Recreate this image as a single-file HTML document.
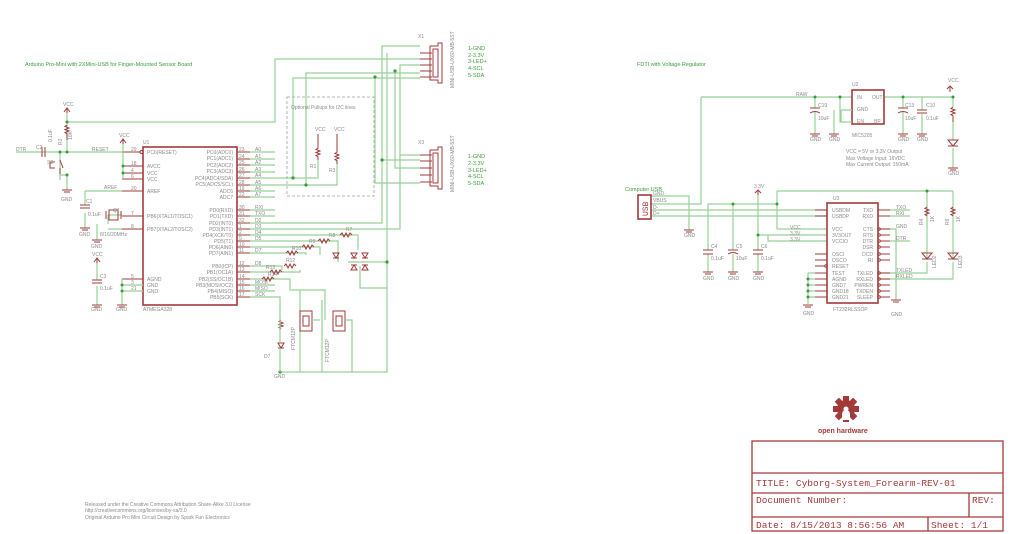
<!DOCTYPE html>
<html><head><meta charset="utf-8"><style>
html,body{margin:0;padding:0;background:#fff;}
svg{display:block;}
.w{stroke:#96d196;stroke-width:1.2;fill:none}
.p{stroke:#a33a3a;stroke-width:1;fill:none}
.pt{stroke:#a33a3a;stroke-width:1.6;fill:none}
.g{fill:#8a8a8a;font-family:"Liberation Sans",sans-serif;font-size:5px}
.gn{fill:#3aa03a;font-family:"Liberation Sans",sans-serif;font-size:5.5px}
.r{fill:#a33a3a;font-family:"Liberation Mono",monospace;font-size:9.5px}
.d{fill:#3a9a3a}
</style></head><body>
<svg width="1024" height="534" viewBox="0 0 1024 534" xmlns="http://www.w3.org/2000/svg">
<text class="gn" x="25" y="66">Arduino Pro-Mini with 2XMini-USB for Finger-Mounted Sensor Board</text>
<text class="gn" x="637" y="66">FDTI with Voltage Regulator</text>

<!-- U1 chip -->
<rect class="pt" x="143" y="147" width="94" height="158"/>
<text class="g" x="143" y="144">U1</text>
<text class="g" x="143" y="311">ATMEGA328</text>
<g class="g">
<text x="147" y="154">PC6(RESET)</text><text x="147" y="168">AVCC</text><text x="147" y="175">VCC</text><text x="147" y="181">VCC</text><text x="147" y="193">AREF</text>
<text x="147" y="218">PB6(XTAL1/TOSC1)</text><text x="147" y="231">PB7(XTAL2/TOSC2)</text>
<text x="147" y="281">AGND</text><text x="147" y="287">GND</text><text x="147" y="293">GND</text>
</g>
<g class="g" text-anchor="end">
<text x="233" y="154">PC0(ADC0)</text><text x="233" y="160">PC1(ADC1)</text><text x="233" y="167">PC2(ADC2)</text><text x="233" y="173">PC3(ADC3)</text><text x="233" y="180">PC4(ADC4/SDA)</text><text x="233" y="186">PC5(ADC5/SCL)</text><text x="233" y="193">ADC6</text><text x="233" y="199">ADC7</text>
<text x="233" y="212">PD0(RXD)</text><text x="233" y="218">PD1(TXD)</text><text x="233" y="225">PD2(INT0)</text><text x="233" y="231">PD3(INT1)</text><text x="233" y="237">PD4(XCK/T0)</text><text x="233" y="243">PD5(T1)</text><text x="233" y="249">PD6(AIN0)</text><text x="233" y="255">PD7(AIN1)</text>
<text x="233" y="268">PB0(ICP)</text><text x="233" y="274">PB1(OC1A)</text><text x="233" y="281">PB2(SS/OC1B)</text><text x="233" y="287">PB3(MOSI/OC2)</text><text x="233" y="293">PB4(MISO)</text><text x="233" y="299">PB5(SCK)</text>
</g>
<g class="p">
<path d="M237 152H250M237 159H250M237 165H250M237 172H250M237 178H250M237 185H250M237 191H250M237 197H250M237 210H250M237 216H250M237 223H250M237 229H250M237 235H250M237 241H250M237 247H250M237 253H250M237 266H250M237 272H250M237 279H250M237 285H250M237 291H250M237 297H250"/>
<path d="M122 166H143M122 173H143M122 179H143M122 191H143M122 216H143M122 229H143M122 279H143M122 285H143M122 291H143M122 152H140"/>
<circle cx="141.5" cy="152" r="1.5"/>
</g>
<g class="g">
<text x="239" y="151">23</text><text x="239" y="158">24</text><text x="239" y="164">25</text><text x="239" y="171">26</text><text x="239" y="177">27</text><text x="239" y="184">28</text><text x="239" y="190">19</text><text x="239" y="196">22</text>
<text x="239" y="209">30</text><text x="239" y="215">31</text><text x="239" y="222">32</text><text x="239" y="228">1</text><text x="239" y="234">2</text><text x="239" y="240">9</text><text x="239" y="246">10</text><text x="239" y="252">11</text>
<text x="239" y="265">12</text><text x="239" y="271">13</text><text x="239" y="278">14</text><text x="239" y="284">15</text><text x="239" y="290">16</text><text x="239" y="296">17</text>
<text x="131" y="151">29</text><text x="131" y="165">18</text><text x="131" y="172">4</text><text x="131" y="178">6</text><text x="131" y="190">20</text><text x="131" y="215">7</text><text x="131" y="228">8</text><text x="131" y="278">5</text><text x="131" y="284">3</text><text x="131" y="290">21</text>
<text x="255" y="151">A0</text><text x="255" y="158">A1</text><text x="255" y="164">A2</text><text x="255" y="171">A3</text><text x="255" y="177">A4</text><text x="255" y="184">A5</text><text x="255" y="190">A6</text><text x="255" y="196">A7</text>
<text x="255" y="209">RXI</text><text x="255" y="215">TXO</text><text x="255" y="222">D2</text><text x="255" y="228">D3</text><text x="255" y="234">D4</text><text x="255" y="240">D5</text><text x="255" y="252">D7</text><text x="255" y="265">D8</text>
<text x="255" y="284">MOSI</text><text x="255" y="290">MISO</text><text x="255" y="296">SCK</text>
</g>
<!-- right pin wires -->
<path class="w" d="M250 152H275M250 159H275M250 165H275M250 172H275M250 191H275M250 197H275M250 210H275M250 216H275M250 285H275M250 291H275"/>
<path class="w" d="M250 178H318V160M250 185H337V160M293 178V78H420M306 185V73H420"/>
<path class="w" d="M250 223H382V46H420M250 229H400V65H420M250 235H358V250M250 241H338V262M250 247H320V255M250 253H306V255M250 266H282V270M250 272H300V270M250 279H290V290H325V320M250 297H280V305"/>
<path class="w" d="M67 122H275V59H420M387 53V372H280M375 77V183H420M395 71V168H420M382 160H420M400 155H420"/>
<path class="w" d="M348 262H387M300 290V372M322 300V372M360 266V288H387"/>
<g class="d"><circle cx="293" cy="178" r="1.6"/><circle cx="306" cy="185" r="1.6"/><circle cx="375" cy="77" r="1.6"/><circle cx="395" cy="71" r="1.6"/><circle cx="387" cy="262" r="1.6"/><circle cx="382" cy="160" r="1.6"/><circle cx="280" cy="372" r="1.6"/></g>

<!-- Pullups -->
<rect x="287" y="97" width="87" height="99" fill="none" stroke="#a0a0a0" stroke-dasharray="3,2" stroke-width="0.8"/>
<text class="g" x="291" y="109">Optional Pullups for I2C lines</text>
<text class="g" x="315" y="131">VCC</text><text class="g" x="334" y="131">VCC</text>
<path class="p" d="M318 134V148l-2 1.5 4 1.5-4 1.5 4 1.5-4 1.5 2 1.5V160M337 134V152l-2 1.5 4 1.5-4 1.5 4 1.5-4 1.5 2 1.5V164"/>
<text class="g" x="310" y="168">R1</text><text class="g" x="329" y="172">R3</text>

<!-- Connectors -->
<g class="p" stroke-width="1.2">
<path d="M420 53H432M420 59H432M420 65H432M420 71H432M420 77H432"/>
<path d="M430 46h8v-3h4v40h-4v-3h-8z"/><path d="M433 49h5v28h-5z"/>
<path d="M420 155H432M420 161H432M420 168H432M420 175H432M420 182H432"/>
<path d="M430 150h8v-3h4v42h-4v-3h-8z"/><path d="M433 153h5v30h-5z"/>
</g>
<text class="g" x="418" y="38">X1</text><text class="g" x="418" y="144">X3</text>
<text class="g" transform="translate(454,88) rotate(-90)">MINI-USB-UX60-MB-5ST</text>
<text class="g" transform="translate(454,192) rotate(-90)">MINI-USB-UX60-MB-5ST</text>
<g class="gn"><text x="468" y="50">1-GND</text><text x="468" y="57">2-3.3V</text><text x="468" y="63">3-LED+</text><text x="468" y="70">4-SCL</text><text x="468" y="77">5-SDA</text>
<text x="468" y="158">1-GND</text><text x="468" y="165">2-3.3V</text><text x="468" y="172">3-LED+</text><text x="468" y="178">4-SCL</text><text x="468" y="185">5-SDA</text></g>

<!-- reset area -->
<text class="g" x="63" y="106">VCC</text><path class="p" d="M67 108v5M64 112l3-4 3 4"/>
<path class="w" d="M67 113V122M16 152H122M60 152V180M67 122V152"/>
<path class="p" d="M67 125l-2 1.5 4 1.5-4 1.5 4 1.5-4 1.5 2 1.5V140"/>
<text class="g" x="62" y="145" transform="rotate(-90 62 145)">R2</text><text class="g" x="72" y="140" transform="rotate(-90 72 140)">10K</text>
<text class="g" x="16" y="151">DTR</text><text class="g" x="92" y="151">RESET</text>
<path class="p" d="M42 147v10M45 147v10"/><text class="g" x="36" y="149">C2</text><text class="g" x="52" y="142" transform="rotate(-90 52 142)">0.1uF</text>
<path class="p" d="M55 162h-5v6h5M60 160l3 8M60 168v6"/><text class="g" x="47" y="164">S2</text>
<path class="w" d="M60 175H67V190"/><path class="p" d="M62 190h10M64 192h6"/><text class="g" x="61" y="201">GND</text>
<circle class="d" cx="60" cy="152" r="1.5"/><circle class="d" cx="67" cy="152" r="1.5"/><circle class="d" cx="67" cy="122" r="1.5"/><circle class="d" cx="67" cy="175" r="1.5"/>
<text class="g" x="119" y="137">VCC</text><path class="p" d="M123 139v5M120 143l3-4 3 4"/>
<path class="w" d="M123 144V179"/><circle class="d" cx="123" cy="166" r="1.5"/><circle class="d" cx="123" cy="173" r="1.5"/>
<path class="w" d="M85 191H122M85 191V205M85 213V228"/><text class="g" x="104" y="189">AREF</text>
<path class="p" d="M80 205h10M80 208h10M80 228h10M82 230h6"/><text class="g" x="86" y="203">C1</text><text class="g" x="88" y="216">0.1uF</text><text class="g" x="79" y="236">GND</text>
<path class="w" d="M108 215H122M108 215V224M108 229H122M97 224V240"/><path class="p" d="M112 211v8M127 211v8M115 210h9v10h-9z" transform="translate(-6,0)"/>
<text class="g" x="113" y="212">Q1</text><text class="g" x="100" y="236">8/16/20MHz</text><path class="p" d="M92 240h10M94 242h6"/><text class="g" x="91" y="248">GND</text>
<text class="g" x="92" y="256">VCC</text><path class="p" d="M97 258v5M94 262l3-4 3 4"/>
<path class="w" d="M97 263V280M97 286V305"/><path class="p" d="M92 280h10M92 283h10M92 305h10M94 307h6"/><text class="g" x="100" y="278">C3</text><text class="g" x="100" y="290">0.1uF</text><text class="g" x="91" y="311">GND</text>
<path class="w" d="M122 279V305M122 285H143M122 291H143"/><circle class="d" cx="122" cy="285" r="1.5"/><circle class="d" cx="122" cy="291" r="1.5"/><path class="p" d="M117 305h10M119 307h6"/><text class="g" x="116" y="311">GND</text>

<!-- LEDs & resistors -->
<g class="p">
<path d="M340 235l2-2 2 4 2-4 2 4 2-4 2 2M318 241l2-2 2 4 2-4 2 4 2-4 2 2M302 247l2-2 2 4 2-4 2 4 2-4 2 2M286 253l2-2 2 4 2-4 2 4 2-4 2 2M284 266l2-2 2 4 2-4 2 4 2-4 2 2M270 272l2-2 2 4 2-4 2 4 2-4 2 2M262 279l2-2 2 4 2-4 2 4 2-4 2 2"/>
<path d="M333 253h6l-3 5zM333 258h6M351 253h6l-3 5zM351 258h6M362 253h6l-3 5zM362 258h6M351 270h6l-3-5zM351 265h6M362 270h6l-3-5zM362 265h6M278 343h6l-3 5zM278 348h6"/>
<path d="M281 320l-2 1.5 4 1.5-4 1.5 4 1.5-4 1.5 2 1.5"/>
<rect x="300" y="311" width="12" height="20"/><rect x="303" y="316" width="6" height="10"/>
<rect x="333" y="311" width="12" height="20"/><rect x="336" y="316" width="6" height="10"/>
</g>
<g class="g"><text x="346" y="231">R7</text><text x="329" y="237">R8</text><text x="309" y="243">R9</text><text x="292" y="250">R10</text><text x="286" y="262">R12</text><text x="266" y="269">R13</text><text x="268" y="276">R14</text>
<text x="264" y="358">D7</text><text transform="translate(295,350) rotate(-90)">FTCM12P</text><text transform="translate(329,362) rotate(-90)">FTCM12P</text><text x="274" y="378">GND</text></g>
<path class="w" d="M280 305V343M280 348V372M312 320H320M345 320H352V372"/>

<!-- right section -->
<path class="w" d="M701 97H852M701 97V204H651M884 97H953M651 196H689V230M651 210H827M651 216H827"/>
<text class="g" x="796" y="96">RAW</text>
<rect class="pt" x="852" y="90" width="32" height="34"/>
<g class="g"><text x="852" y="86">U2</text><text x="852" y="137">MIC5205</text><text x="857" y="99">IN</text><text x="872" y="99">OUT</text><text x="857" y="111">GND</text><text x="857" y="123">EN</text><text x="874" y="123">BP</text></g>
<path class="w" d="M840 97V122H852M841 122V110H852M834 110V134"/>
<path class="w" d="M815 97V108M815 112V134M903 97V108M903 112V134M922 97V110M922 114V134M953 97V107M953 122V140M953 148V168"/>
<g class="p"><path d="M810 108h10M810 113q5-3 10 0M898 108h10M898 113q5-3 10 0M917 110h10M917 113h10M810 134h10M812 136h6M829 134h10M831 136h6M898 134h10M900 136h6M917 134h10M919 136h6M948 168h10M950 170h6M684 230h10M686 232h6M950 92v-5M947 89l3-3 3 3M948 140h10l-5 6zM948 146h10"/>
<path d="M953 107l-2 1.5 4 1.5-4 1.5 4 1.5-4 1.5 2 1.5V122"/></g>
<g class="d"><circle cx="840" cy="97" r="1.5"/><circle cx="903" cy="97" r="1.5"/><circle cx="953" cy="97" r="1.5"/><circle cx="815" cy="97" r="1.5"/></g>
<g class="g"><text x="818" y="107">C19</text><text x="818" y="120">10uF</text><text x="905" y="107">C13</text><text x="905" y="120">10uF</text><text x="926" y="107">C10</text><text x="926" y="120">0.1uF</text>
<text x="810" y="141">GND</text><text x="829" y="141">GND</text><text x="898" y="141">GND</text><text x="917" y="141">GND</text><text x="948" y="82">VCC</text><text x="948" y="175">GND</text>
<text x="846" y="153">VCC = 5V or 3.3V Output</text><text x="846" y="160">Max Voltage Input: 16VDC</text><text x="846" y="166">Max Current Output: 150mA</text>
<text x="684" y="237">GND</text></g>
<text class="gn" x="625" y="191">Computer USB</text>
<rect class="pt" x="638" y="195" width="13" height="24"/>
<text class="r" style="font-size:8px;fill:#a33a3a" transform="translate(648,216) rotate(-90)">USB</text>
<g class="g"><text x="653" y="195">GND</text><text x="653" y="202">VBUS</text><text x="653" y="209">D-</text><text x="653" y="215">D+</text></g>
<text class="g" x="754" y="188">3.3V</text><path class="p" d="M758 195v-4M755 193l3-3 3 3"/>
<path class="w" d="M758 195V250M758 254V272M708 204H777M708 204V250M708 254V272M733 204V250M733 254V272M777 191H953M777 191V229H827M758 235H827M768 235V241H827M927 191V258M953 191V258M927 262V273H877M953 262V279H877M877 229H896V300"/>
<g class="d"><circle cx="733" cy="204" r="1.5"/><circle cx="777" cy="204" r="1.5"/><circle cx="758" cy="235" r="1.5"/><circle cx="927" cy="191" r="1.5"/></g>
<g class="p"><path d="M703 250h10M703 254h10M728 250h10M728 254q5-3 10 0M753 250h10M753 254h10M703 272h10M705 274h6M728 272h10M730 274h6M753 272h10M755 274h6M891 300h10M893 302h6M803 305h10M805 307h6"/>
<path d="M927 207l-2 1.5 4 1.5-4 1.5 4 1.5-4 1.5 2 1.5M953 207l-2 1.5 4 1.5-4 1.5 4 1.5-4 1.5 2 1.5M922 253h10l-5 6zM922 259h10M948 253h10l-5 6zM948 259h10"/></g>
<g class="g"><text x="711" y="248">C4</text><text x="711" y="260">0.1uF</text><text x="736" y="248">C5</text><text x="736" y="260">10uF</text><text x="761" y="248">C6</text><text x="761" y="260">0.1uF</text>
<text x="703" y="280">GND</text><text x="728" y="280">GND</text><text x="753" y="280">GND</text><text x="803" y="315">GND</text><text x="891" y="316">GND</text>
<text x="790" y="229">VCC</text><text x="790" y="235">3.3V</text><text x="790" y="241">3.3V</text></g>
<rect class="pt" x="827" y="203" width="51" height="100"/>
<text class="g" x="833" y="200">U3</text><text class="g" x="833" y="311">FT232RLSSOP</text>
<g class="g"><text x="832" y="212">USBDM</text><text x="832" y="218">USBDP</text><text x="832" y="231">VCC</text><text x="832" y="237">3V3OUT</text><text x="832" y="243">VCCIO</text><text x="832" y="256">OSCI</text><text x="832" y="262">OSCO</text><text x="832" y="268">RESET</text><text x="832" y="275">TEST</text><text x="832" y="281">AGND</text><text x="832" y="287">GND7</text><text x="832" y="293">GND18</text><text x="832" y="299">GND21</text></g>
<g class="g" text-anchor="end"><text x="873" y="212">TXD</text><text x="873" y="218">RXD</text><text x="873" y="231">CTS</text><text x="873" y="237">RTS</text><text x="873" y="243">DTR</text><text x="873" y="249">DSR</text><text x="873" y="256">DCD</text><text x="873" y="262">RI</text><text x="873" y="275">TXLED</text><text x="873" y="281">RXLED</text><text x="873" y="287">PWREN</text><text x="873" y="293">TXDEN</text><text x="873" y="299">SLEEP</text></g>
<g class="p"><path d="M815 210H827M815 216H827M815 254H827M815 260H827M815 266H825M815 273H827M815 279H827M815 285H827M815 291H827M815 297H827M878 210H890M878 216H890M880 229H890M880 235H890M880 241H890M880 247H890M880 254H890M880 260H890M880 273H890M880 279H890M880 285H890M880 291H890M880 297H890"/>
<circle cx="879" cy="229" r="1.3"/><circle cx="879" cy="235" r="1.3"/><circle cx="879" cy="241" r="1.3"/><circle cx="879" cy="247" r="1.3"/><circle cx="879" cy="254" r="1.3"/><circle cx="879" cy="260" r="1.3"/><circle cx="879" cy="273" r="1.3"/><circle cx="879" cy="279" r="1.3"/><circle cx="879" cy="285" r="1.3"/><circle cx="879" cy="291" r="1.3"/><circle cx="879" cy="297" r="1.3"/><circle cx="826" cy="266" r="1.3"/></g>
<path class="w" d="M890 210H910M890 216H910M890 241H910M808 273H815M808 273V305M808 279H815M808 285H815M808 291H815M808 297H815"/>
<g class="d"><circle cx="808" cy="279" r="1.5"/><circle cx="808" cy="285" r="1.5"/><circle cx="808" cy="291" r="1.5"/><circle cx="808" cy="297" r="1.5"/></g>
<g class="g"><text x="896" y="209">TXO</text><text x="896" y="215">RXI</text><text x="896" y="228">GND</text><text x="896" y="240">DTR</text><text x="896" y="272">TXLED</text><text x="896" y="278">RXLED</text>
<text transform="translate(923,225) rotate(-90)">R4</text><text transform="translate(934,222) rotate(-90)">1K</text><text transform="translate(949,225) rotate(-90)">R6</text><text transform="translate(960,222) rotate(-90)">1K</text>
<text transform="translate(936,268) rotate(-90)">LED2</text><text transform="translate(962,268) rotate(-90)">LED3</text></g>

<!-- open hardware logo -->
<g fill="#a33a3a">
<circle cx="846" cy="409" r="9"/>
<rect x="843" y="396" width="6" height="26"/><rect x="833" y="406" width="26" height="6"/>
<rect x="843" y="396" width="6" height="26" transform="rotate(45 846 409)"/><rect x="843" y="396" width="6" height="26" transform="rotate(-45 846 409)"/>
</g>
<path d="M842 420v-6a4 4 0 1 1 8 0v6z" fill="#fff"/>
<circle cx="846" cy="409" r="2.5" fill="#fff"/>
<text x="818" y="433" fill="#a33a3a" font-family="Liberation Sans,sans-serif" font-weight="bold" font-size="7">open hardware</text>

<!-- title block -->
<g stroke="#a33a3a" stroke-width="1.3" fill="none">
<rect x="752" y="441" width="251" height="90"/>
<path d="M752 473H1003M752 493H1003M752 517H1003M969 493V517M928 517V531"/>
</g>
<text class="r" x="756" y="486">TITLE: Cyborg-System_Forearm-REV-01</text>
<text class="r" x="756" y="503">Document Number:</text>
<text class="r" x="972" y="503">REV:</text>
<text class="r" x="756" y="528">Date: 8/15/2013 8:56:56 AM</text>
<text class="r" x="931" y="528">Sheet: 1/1</text>

<g class="g"><text x="85" y="506">Released under the Creative Commons Attribution Share-Alike 3.0 License</text><text x="85" y="512">http://creativecommons.org/licenses/by-sa/3.0</text><text x="85" y="519">Original Arduino Pro Mini Circuit Design by Spark Fun Electronics</text></g>
</svg>
</body></html>
